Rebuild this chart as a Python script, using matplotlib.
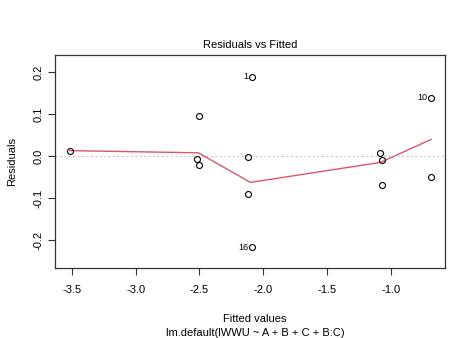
import matplotlib.pyplot as plt

# fitted values and residuals
fitted = [-3.516, -2.504, -2.517, -2.504, -2.086, -2.117, -2.117, -2.086,
          -1.084, -1.071, -1.071, -0.684, -0.684]
resid = [0.0126, 0.0957, -0.0071, -0.0214, 0.188, -0.0024, -0.0895, -0.217,
         0.0063, -0.0087, -0.0689, 0.139, -0.0499]
labels = {4: '1', 7: '16', 11: '10'}  # index of point -> label

# smoother (red line)
smooth_x = [-3.516, -2.51, -2.10, -1.08, -0.684]
smooth_y = [0.013, 0.0078, -0.0625, -0.015, 0.0397]

XTICKS = [-3.5, -3.0, -2.5, -2.0, -1.5, -1.0]
YTICKS = [-0.2, -0.1, 0.0, 0.1, 0.2]

plt.rcParams['font.family'] = ['Liberation Sans', 'DejaVu Sans']
FS = 8

fig = plt.figure(figsize=(4.74, 3.38), dpi=100)
ax = fig.add_axes([0.116, 0.207, 0.823, 0.630])

ax.axhline(0, color='#bbbbbb', lw=0.8, ls=(0, (1.5, 2.5)), zorder=1)
ax.plot(smooth_x, smooth_y, color='#DF536B', lw=1.0, zorder=2)
ax.plot(fitted, resid, 'o', mfc='none', mec='black', ms=4.3, mew=0.8,
        zorder=3)
for i, lab in labels.items():
    ax.text(fitted[i] - 0.03, resid[i], lab, ha='right', va='center',
            fontsize=6.5)

ax.set_xlim(-3.633, -0.574)
ax.set_ylim(-0.266, 0.24)
ax.set_xticks(XTICKS)
ax.set_xticklabels(['%.1f' % v for v in XTICKS])
ax.set_yticks(YTICKS)
ax.set_yticklabels(['%.1f' % v for v in YTICKS], rotation=90, va='center')
ax.tick_params(direction='out', length=5, width=0.8, labelsize=FS,
               color='#333333')
ax.tick_params(axis='x', pad=7)
ax.tick_params(axis='y', pad=3)
for s in ax.spines.values():
    s.set_color('#333333')
    s.set_linewidth(0.9)

ax.set_title('Residuals vs Fitted', fontsize=FS, pad=5)
ax.set_ylabel('Residuals', fontsize=FS, labelpad=12)
fig.text(0.538, 1 - 319 / 338, 'Fitted values', ha='center', va='center',
         fontsize=FS)
fig.text(0.538, 1 - 333 / 338, 'lm.default(lWWU ~ A + B + C + B:C)',
         ha='center', va='center', fontsize=FS)

fig.savefig('out.png', dpi=100)
